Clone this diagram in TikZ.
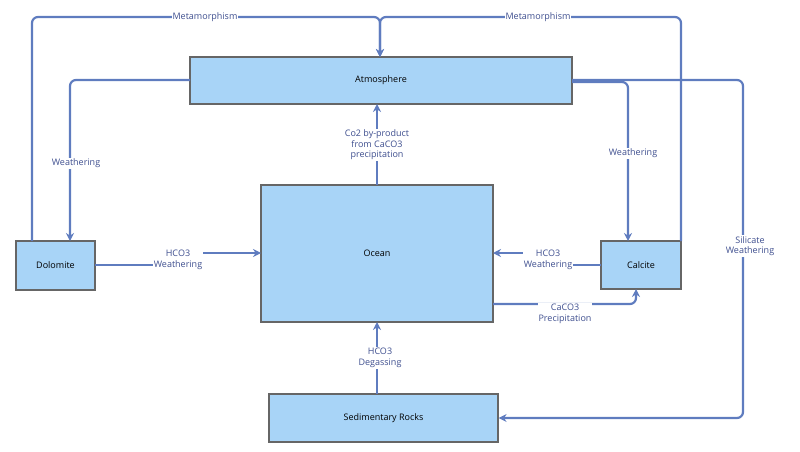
\documentclass[tikz,border=0pt]{standalone}
\usepackage{fontspec}
\setmainfont{Open Sans}
\usetikzlibrary{arrows.meta}
\begin{document}
\begin{tikzpicture}[x=1pt,y=-1pt,
 box/.style={draw=black!60,fill=boxc,line width=1.2pt,inner sep=0pt,font=\fontsize{9}{11}\selectfont},
 con/.style={draw=linec,line width=2.2pt,rounded corners=6pt,-{Stealth[length=8pt,width=8pt]}},
 lab/.style={fill=white,text=labc,font=\fontsize{9}{10.5}\selectfont,align=center,inner sep=1pt}]
\definecolor{boxc}{HTML}{A8D4F7}
\definecolor{linec}{HTML}{5F7CBF}
\definecolor{labc}{HTML}{3F4F8F}
\useasboundingbox (0,0) rectangle (800,452);
\node[box,minimum width=382pt,minimum height=47pt] (atm) at (381,80.5) {Atmosphere};
\node[box,minimum width=232pt,minimum height=137pt] (oce) at (377,253.5) {Ocean};
\node[box,minimum width=79pt,minimum height=49pt] (dol) at (55.5,265.5) {Dolomite};
\node[box,minimum width=80pt,minimum height=48pt] (cal) at (641,265) {Calcite};
\node[box,minimum width=229pt,minimum height=48pt] (sed) at (383.5,418) {Sedimentary Rocks};
\coordinate (t1) at (32,17); \coordinate (t2) at (681,17);
\draw[con] (32,241) -- (t1) -- (380,17) -- (380,57);
\draw[con] (681,241) -- (t2) -- (380,17) -- (380,57);
\node[lab] at (205,17) {Metamorphism};
\node[lab] at (538,17) {Metamorphism};
\draw[con] (190,80) -- (70,80) -- (70,241);
\node[lab] at (76,163) {Weathering};
\draw[con] (572,82) -- (628,82) -- (628,241);
\node[lab] at (633,153) {Weathering};
\draw[con] (572,80) -- (743,80) -- (743,418) -- (sed.east);
\node[lab] at (750,246) {Silicate\\Weathering};
\draw[con] (377,185) -- (377,104);
\node[lab] at (377,145) {Co2 by-product\\from CaCO3\\precipitation};
\draw[con,rounded corners=0pt] (95,265) -- (178,265) -- (178,253) -- (261,253);
\node[lab] at (178,260) {HCO3\\Weathering};
\draw[con,rounded corners=0pt] (601,265) -- (548,265) -- (548,253) -- (493,253);
\node[lab] at (548,260) {HCO3\\Weathering};
\draw[con] (493,304) -- (636,304) -- (636,289);
\node[lab] at (565,314) {CaCO3\\Precipitation};
\draw[con] (377,394) -- (377,322);
\node[lab] at (380,358) {HCO3\\Degassing};
\end{tikzpicture}
\end{document}
